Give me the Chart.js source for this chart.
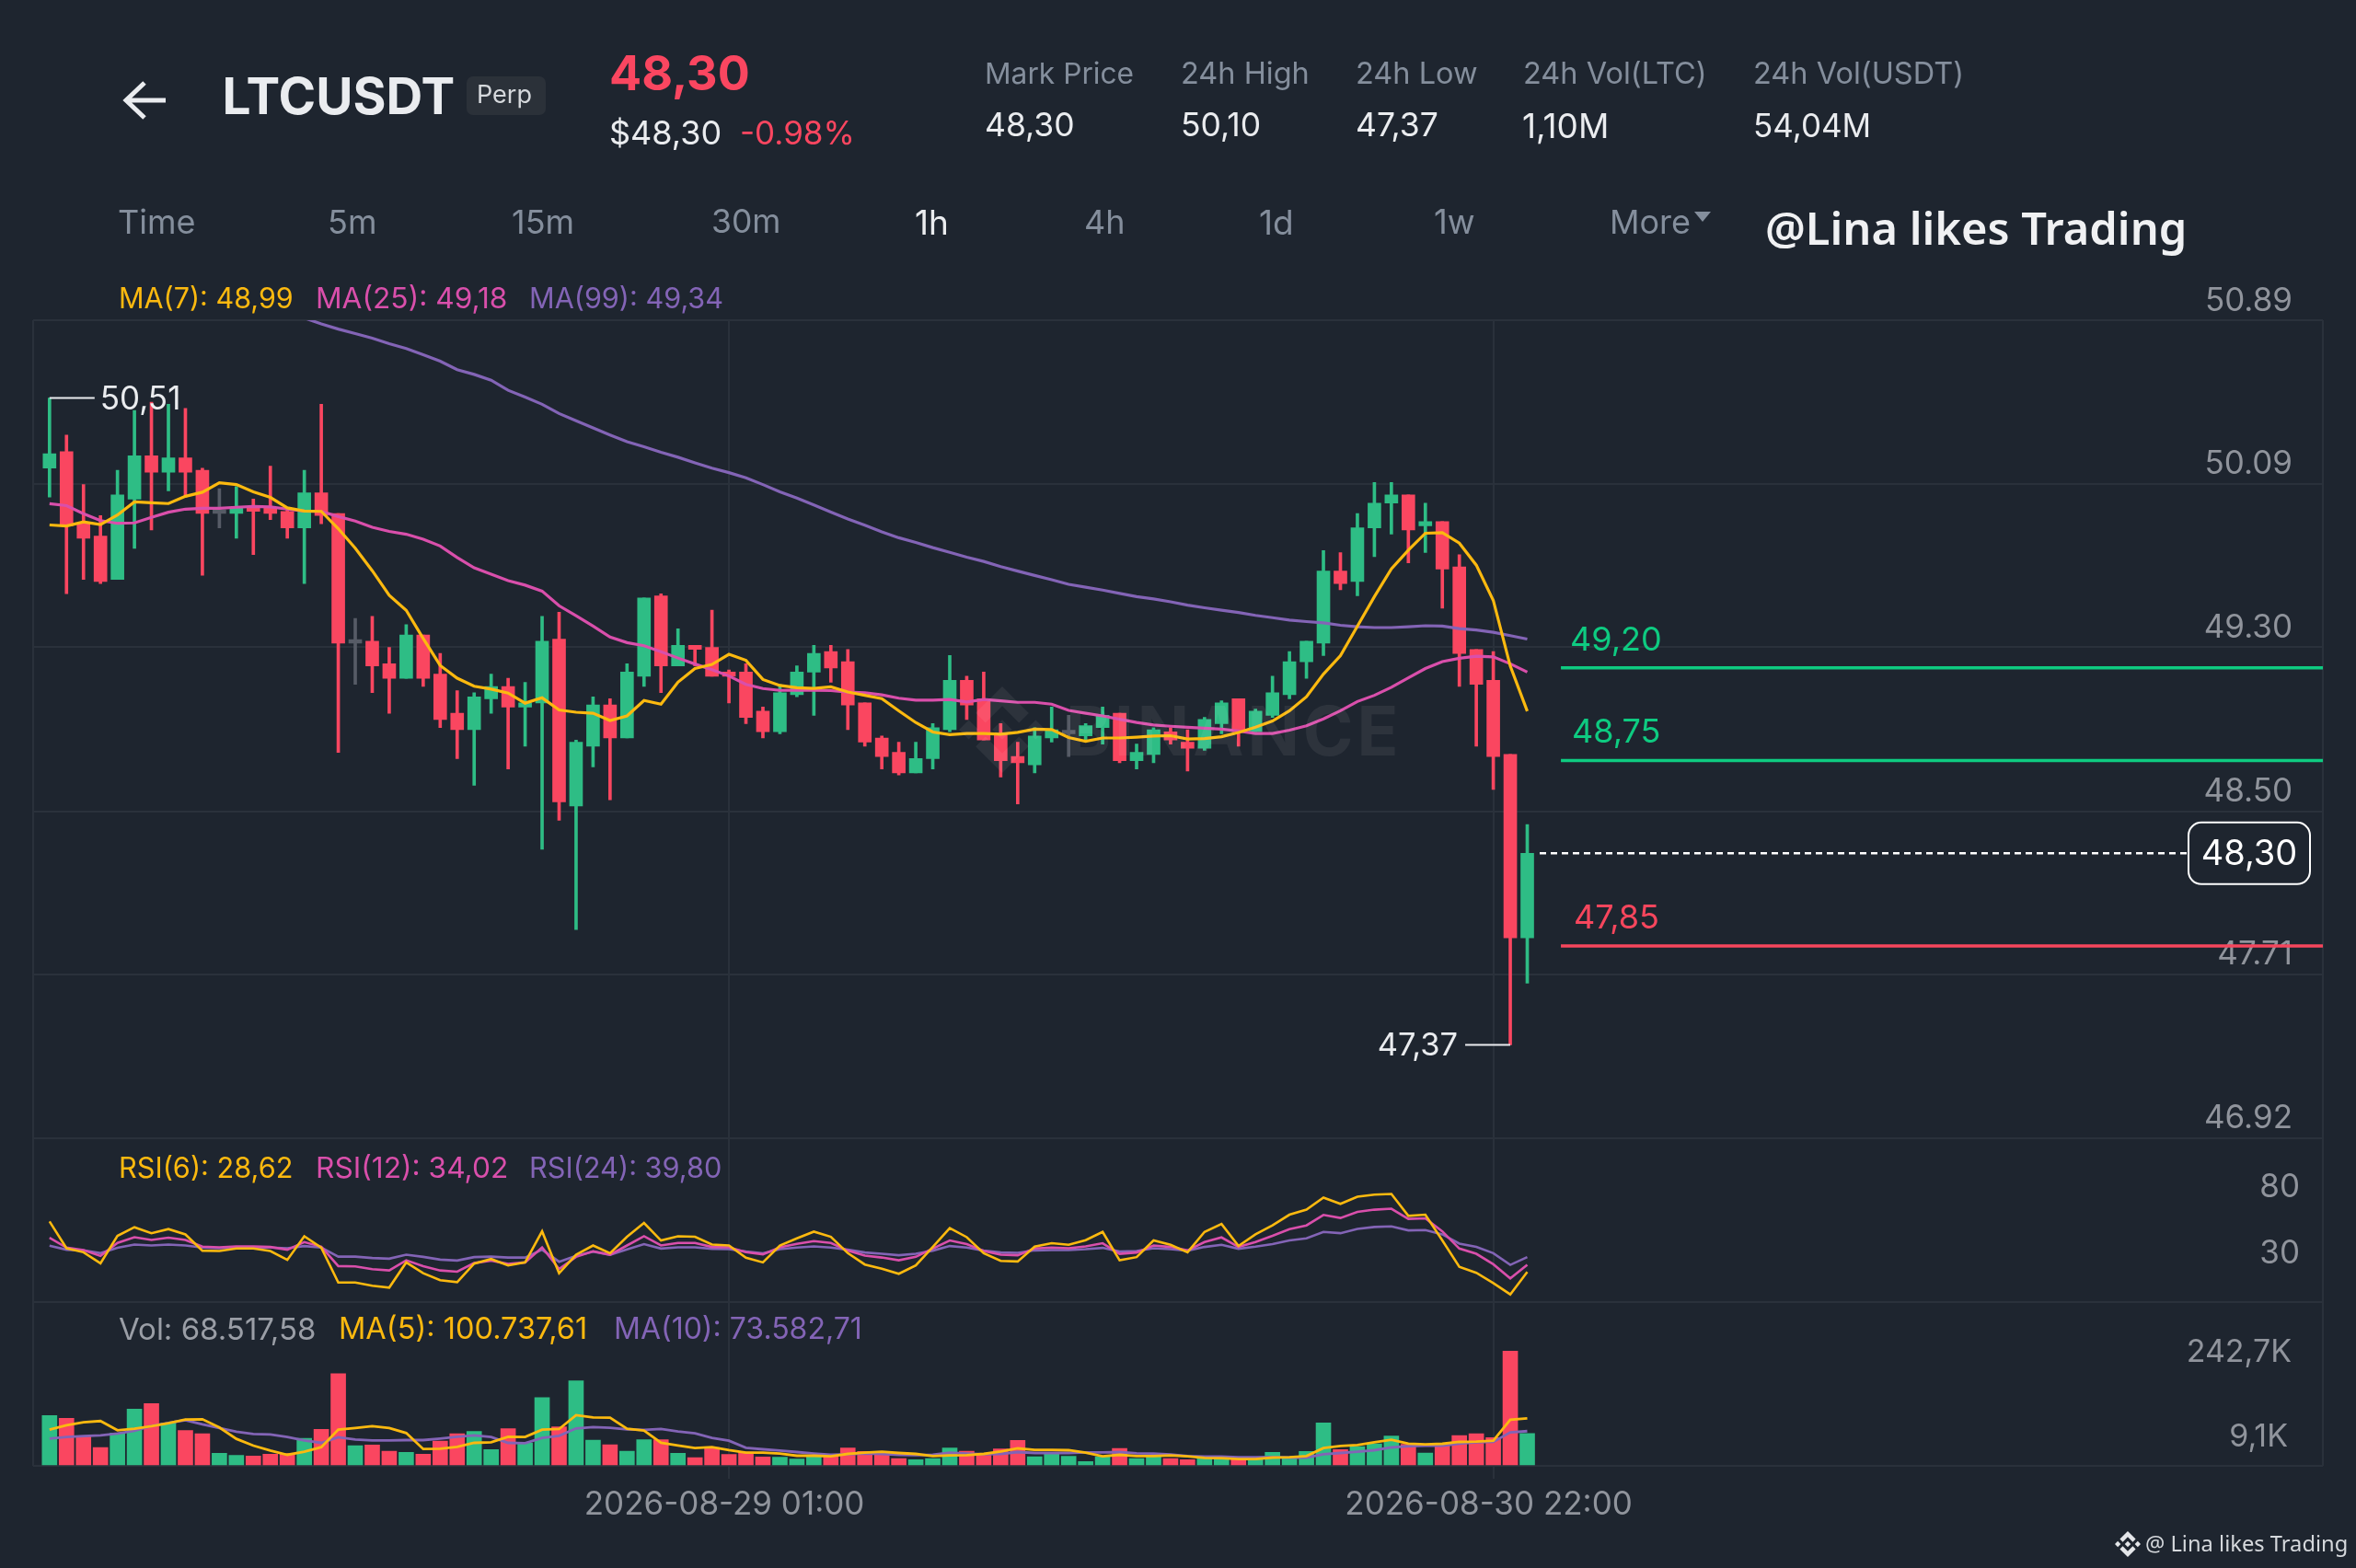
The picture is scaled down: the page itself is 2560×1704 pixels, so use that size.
<!DOCTYPE html>
<html><head><meta charset="utf-8"><title>LTCUSDT</title>
<script src="https://cdn.jsdelivr.net/npm/chart.js@4"></script>
<style>
html,body{margin:0;padding:0;background:#1e252f;width:2560px;height:1704px;overflow:hidden}
#wrap{position:relative;width:2560px;height:1704px}
canvas{position:absolute;left:0;top:0}
.t{position:absolute;white-space:nowrap;line-height:1;transform:translateY(-50%);font-family:Inter,"Noto Sans",sans-serif}
svg{position:absolute}
</style></head><body><div id="wrap">
<canvas id="c" width="2560" height="1704"></canvas>
<svg style="left:130px;top:86px" width="54" height="46" viewBox="0 0 54 46"><path d="M50 23H8M27 4L7 23l20 19" fill="none" stroke="#eaecef" stroke-width="5"/></svg>
<svg style="left:1841px;top:230px" width="18" height="11" viewBox="0 0 18 11"><path d="M0 0h18L9 11z" fill="#848e9c"/></svg>
<div style="position:absolute;left:507px;top:83px;width:86px;height:42px;border-radius:7px;background:#2b3139"></div>
<svg style="left:2298px;top:1664px" width="28" height="28" viewBox="0 0 126.61 126.61"><path fill="#e4e6e9" d="M38.73 53.2 63.3 28.62l24.6 24.6 14.3-14.3L63.3 0 24.42 38.88zM0 63.31l14.3-14.3 14.3 14.3-14.3 14.3zM38.73 73.41l24.57 24.57 24.6-24.6 14.31 14.29L63.3 126.61 24.41 87.73zM98 63.31l14.3-14.3 14.31 14.3-14.31 14.3zM77.83 63.3 63.3 48.78 48.78 63.3 63.3 77.83z"/></svg>
</div>
<script>
// ---------- candle values (one entry per hour, 2026-08-27 09:00 → 2026-08-31 00:00) ----------
const openValues = [50.17,50.25,49.90,49.84,49.63,50.02,50.23,50.15,50.22,50.16,
49.95,49.95,49.98,49.98,49.96,49.88,50.05,49.95,49.32,49.33,
49.22,49.15,49.36,49.17,48.98,48.90,49.05,49.11,49.01,49.03,
49.34,48.53,48.82,49.02,48.86,49.16,49.55,49.21,49.31,49.30,
49.18,49.18,48.99,48.89,49.07,49.18,49.28,49.23,49.03,48.86,
48.79,48.69,48.76,48.90,49.14,49.05,48.88,48.77,48.73,48.86,
48.88,48.87,48.91,48.98,48.75,48.78,48.89,48.84,48.81,48.93,
49.05,48.89,48.97,49.07,49.23,49.32,49.67,49.62,49.88,50.00,
50.04,49.89,49.91,49.69,49.29,49.14,48.78,47.89];
const highValues = [50.51,50.33,50.09,49.94,50.16,50.45,50.49,50.48,50.46,50.17,
50.07,50.08,50.02,50.18,49.98,50.16,50.48,49.95,49.44,49.45,
49.30,49.41,49.36,49.27,49.09,49.08,49.17,49.15,49.13,49.45,
49.47,48.85,49.06,49.05,49.22,49.54,49.56,49.39,49.31,49.48,
49.19,49.22,49.01,49.12,49.21,49.31,49.31,49.29,49.03,48.87,
48.84,48.84,48.93,49.26,49.16,49.18,48.93,48.84,48.91,49.01,
48.97,48.93,49.01,48.98,48.83,48.91,48.91,48.90,48.96,49.04,
49.05,49.00,49.16,49.28,49.33,49.77,49.76,49.95,50.10,50.10,
50.04,50.00,49.91,49.75,49.29,49.28,48.78,48.44];
const lowValues = [50.03,49.56,49.63,49.61,49.63,49.78,49.87,50.06,50.03,49.65,
49.88,49.83,49.75,49.92,49.83,49.61,49.90,48.79,49.12,49.08,
48.98,49.15,49.11,48.91,48.76,48.63,48.98,48.71,48.82,48.32,
48.46,47.93,48.72,48.56,48.86,49.11,49.08,49.21,49.21,49.16,
49.03,48.93,48.86,48.88,49.06,48.97,49.13,48.90,48.82,48.71,
48.68,48.69,48.71,48.89,48.95,48.85,48.67,48.54,48.69,48.84,
48.77,48.85,48.83,48.74,48.71,48.74,48.83,48.70,48.80,48.88,
48.82,48.89,48.96,49.05,49.15,49.26,49.58,49.55,49.74,49.85,
49.71,49.76,49.49,49.11,48.82,48.61,47.37,47.67];
const closeValues = [50.24,49.89,49.83,49.62,50.04,50.23,50.15,50.22,50.15,49.95,
49.95,49.98,49.96,49.95,49.88,50.05,49.94,49.32,49.32,49.21,
49.15,49.36,49.15,48.95,48.90,49.06,49.11,49.01,49.03,49.33,
48.55,48.84,49.02,48.86,49.18,49.54,49.21,49.31,49.29,49.16,
49.16,48.96,48.89,49.08,49.18,49.27,49.20,49.02,48.84,48.77,
48.69,48.76,48.91,49.14,49.02,48.85,48.75,48.74,48.87,48.90,
48.88,48.92,48.97,48.75,48.79,48.90,48.85,48.81,48.95,49.03,
48.89,48.99,49.08,49.23,49.33,49.67,49.61,49.88,50.00,50.04,
49.87,49.91,49.68,49.27,49.12,48.77,47.89,48.30];

// ---------- moving averages on price ----------
const ma7 = [49.894,49.889,49.909,49.896,49.942,50.006,50.002,49.998,50.033,50.053,
50.099,50.090,50.055,50.028,49.977,49.962,49.960,49.876,49.781,49.672,
49.553,49.480,49.343,49.212,49.150,49.111,49.097,49.078,49.029,49.055,
48.996,48.985,48.980,48.945,48.967,49.042,49.024,49.131,49.197,49.217,
49.266,49.237,49.144,49.115,49.104,49.101,49.108,49.083,49.067,49.051,
48.992,48.935,48.889,48.876,48.882,48.882,48.878,48.887,48.903,48.901,
48.862,48.844,48.860,48.860,48.864,48.869,48.871,48.855,48.857,48.866,
48.887,48.912,48.942,48.992,49.060,49.170,49.259,49.403,49.546,49.681,
49.772,49.854,49.857,49.806,49.699,49.528,49.209,48.990];
const ma25 = [49.997,49.988,49.949,49.915,49.902,49.904,49.931,49.956,49.971,49.975,
49.975,49.980,49.984,49.982,49.971,49.962,49.960,49.935,49.913,49.883,
49.863,49.849,49.825,49.792,49.736,49.686,49.655,49.624,49.602,49.573,
49.502,49.453,49.403,49.350,49.323,49.308,49.279,49.248,49.219,49.192,
49.161,49.120,49.100,49.091,49.092,49.092,49.090,49.083,49.079,49.069,
49.053,49.044,49.044,49.047,49.035,49.047,49.040,49.033,49.033,49.024,
48.994,48.980,48.967,48.951,48.935,48.923,48.917,48.912,48.907,48.903,
48.894,48.882,48.882,48.898,48.919,48.953,48.992,49.037,49.067,49.106,
49.152,49.197,49.231,49.247,49.257,49.254,49.220,49.180];
const ma99 = [null,null,null,null,null,null,null,null,null,null,
null,null,null,null,null,50.899,50.870,50.845,50.823,50.801,
50.774,50.751,50.720,50.689,50.648,50.625,50.597,50.548,50.515,50.480,
50.435,50.400,50.365,50.331,50.298,50.274,50.247,50.223,50.196,50.170,
50.148,50.123,50.090,50.055,50.025,49.991,49.957,49.923,49.893,49.861,
49.832,49.809,49.784,49.761,49.738,49.717,49.692,49.670,49.649,49.628,
49.606,49.592,49.578,49.562,49.546,49.535,49.521,49.505,49.492,49.480,
49.469,49.455,49.444,49.432,49.425,49.419,49.407,49.400,49.396,49.396,
49.400,49.405,49.403,49.391,49.384,49.373,49.357,49.340];

// ---------- RSI ----------
const rsi6 = [66.8,46.5,43.5,35.1,55.9,62.4,57.9,61.0,57.0,44.7,
44.4,46.3,46.3,44.4,37.7,55.6,47.0,20.6,20.6,18.1,
16.7,35.8,27.6,22.3,20.9,34.9,38.4,33.5,35.8,59.3,
27.6,41.6,48.6,42.8,55.2,65.6,52.4,55.6,55.2,49.3,
48.6,39.3,35.8,48.6,54.0,59.1,55.2,42.8,34.2,31.1,
27.2,33.5,47.5,61.7,54.9,42.8,37.0,36.5,47.7,50.3,
49.1,52.6,58.9,37.4,39.8,52.4,49.1,43.5,58.9,64.9,
48.2,57.0,63.8,71.9,75.7,84.8,80.1,85.5,87.1,87.6,
71.0,71.9,52.4,32.5,27.9,20.2,11.6,28.62];
const rsi12 = [54.5,47.0,45.1,40.7,50.5,54.9,52.8,54.5,52.8,47.7,
47.2,47.9,47.9,47.5,45.4,51.2,47.7,33.0,32.8,30.7,
29.7,37.4,33.0,29.7,28.8,35.3,37.2,34.6,35.8,47.2,
30.9,40.0,44.2,41.6,48.6,55.6,48.6,50.5,50.5,47.5,
47.2,43.5,41.9,47.2,49.8,51.9,50.5,44.7,40.9,39.5,
37.4,40.0,46.3,52.4,49.6,44.4,41.6,41.2,46.3,47.0,
46.5,47.9,50.3,42.3,43.3,48.6,47.5,44.9,51.2,54.7,
47.5,51.2,55.9,61.0,63.8,71.7,69.4,74.0,75.7,76.4,
68.7,69.1,59.3,46.3,42.3,34.4,23.7,34.02];
const rsi24 = [48.4,45.4,44.9,42.8,46.8,49.3,48.6,49.3,48.6,47.0,
46.5,47.0,47.2,47.0,46.5,48.2,47.0,40.2,40.2,39.1,
38.6,41.6,40.0,37.9,37.2,39.8,40.2,39.5,39.5,45.4,
36.3,40.7,44.0,41.6,45.6,49.6,46.3,47.2,47.2,46.1,
45.8,44.0,42.6,45.8,47.0,47.9,47.0,45.4,43.3,42.3,
41.2,42.3,44.7,48.2,47.0,44.7,43.3,43.0,44.9,45.1,
45.1,45.8,46.8,44.0,44.4,46.5,45.8,44.7,47.5,49.1,
46.1,47.7,49.6,52.4,54.0,58.9,57.9,61.2,62.6,63.1,
60.0,60.3,57.0,50.0,47.5,42.8,33.9,39.80];

// ---------- volume ----------
const volumeValues = [106600,100750,61750,39000,69550,120250,131950,91000,74750,68250,
26650,22100,20800,24700,26000,58500,77350,195000,42900,44200,
31200,28600,24700,52650,68250,72800,34450,78650,48750,144300,
82550,180050,54600,44850,31200,55250,55250,26650,17550,39000,
24050,29250,18850,18200,14300,22750,20800,37700,30550,26000,
15600,13000,15600,37700,31200,26000,35750,53950,19500,26000,
20150,9100,19500,37050,15600,19500,15600,13000,16250,17550,
13000,16250,28600,16250,30550,91000,34450,40950,46800,63050,
45500,27300,45500,64350,68250,59800,242700,68517.58];
const volMa5 = [76700,85800,92300,94900,75400,78650,83850,90350,98150,98800,
81250,57200,42900,32500,23400,29900,39650,76700,79950,83850,
79950,69550,35750,36400,40300,48750,50050,61750,61100,76700,
78000,107250,102700,102050,78650,74750,48750,42900,37700,39650,
33150,27950,27950,26000,21450,21450,20150,25350,27950,29900,
27300,25350,20800,22100,22750,25350,30550,37050,33800,33800,
33150,27950,20150,23400,20800,20800,22100,20150,16900,16250,
14300,14300,17550,18200,20800,37700,42250,44200,50050,55250,
46800,45500,46800,50700,51350,53300,97500,100737.61];
const volMa10 = [57850,61100,63050,64350,68250,74100,84500,91000,96850,87750,
79950,72150,67600,66300,61100,53950,48750,60450,55900,53950,
53950,54600,54600,57850,61750,64350,61100,48750,48100,59150,
63700,79300,81900,80600,77350,76050,78000,72800,68900,59150,
53300,38350,35100,32500,29250,26000,23400,24700,26000,25350,
23400,22750,23400,27950,26000,24700,25350,29250,27300,27300,
27300,28600,28600,29250,26650,26000,24050,20800,19500,19500,
18200,18200,18850,17550,17550,24700,27300,29900,33150,39000,
41600,42900,42900,46800,50050,50700,70850,73582.71];

// ---------- axes ----------
const priceTicks = [50.888,50.094,49.30,48.504,47.712,46.918];
const rsiTicks = [80,30];
const volumeTicks = [242700,9100];
const volumeTickLabels = ['242,7K','9,1K'];
const timeTicks = [40,85];
const timeTickLabels = ['2026-08-29 01:00','2026-08-30 22:00'];

// ---------- horizontal levels ----------
const levelValues = [49.20,48.75,47.85];
const levelLabels = ['49,20','48,75','47,85'];
const lastPrice = 48.30, lastPriceLabel = '48,30';
const highPoint = 50.51, highLabel = '50,51';
const lowPoint = 47.37, lowLabel = '47,37';

// ---------- colours ----------
const BG='#1e252f', GRID='#2a313b', UP='#2ebd85', DOWN='#fa4660', DOJI='#565b66',
  LVL_UP='#0ecb81', LVL_DN='#f6465d', YEL='#fcb90f', PINK='#d94fab', PUR='#8364b6',
  AXIS='#90949c', MUTED='#848e9c', WHITE='#eaecef';

const idx = openValues.map((_,i)=>i);
const dir = i => closeValues[i]>=openValues[i];
const candleColor = idx.map(i=>closeValues[i]===openValues[i]?DOJI:(dir(i)?UP:DOWN));
const volumeColor = idx.map(i=>dir(i)?UP:DOWN);
const pts = a => a.map((y,x)=>({x,y})).filter(p=>p.y!==null);
const hline = (y,x0,x1)=>[{x:x0,y},{x:x1,y}];
const line = (data,yAxisID,color,width,order,extra)=>Object.assign({type:'line',data,yAxisID,borderColor:color,borderWidth:width,pointRadius:0,tension:0,order,fill:false},extra||{});

const X_MIN=-0.965, X_MAX=133.84, LEVEL_X0=88.98, LAST_X0=87.73, LAST_X1=125.93;
const PRICE_MIN=46.918, PRICE_MAX=50.888, RSI_MIN=5.9, RSI_MAX=129.9, VOL_MAX=347100;

const datasets=[
 {type:'bar',yAxisID:'yPrice',data:idx.map(i=>({x:i,y:[lowValues[i],highValues[i]]})),backgroundColor:candleColor,barThickness:3,grouped:false,order:6},
 {type:'bar',yAxisID:'yPrice',data:idx.map(i=>({x:i,y:[openValues[i],closeValues[i]]})),backgroundColor:candleColor,barThickness:14,minBarLength:4,grouped:false,order:5},
 line(pts(ma99),'yPrice',PUR,3.2,4),
 line(pts(ma25),'yPrice',PINK,3.2,3),
 line(pts(ma7),'yPrice',YEL,3.2,2),
 line(hline(levelValues[0],LEVEL_X0,X_MAX),'yPrice',LVL_UP,3.5,1),
 line(hline(levelValues[1],LEVEL_X0,X_MAX),'yPrice',LVL_UP,3.5,1),
 line(hline(levelValues[2],LEVEL_X0,X_MAX),'yPrice',LVL_DN,3.5,1),
 line(hline(lastPrice,LAST_X0,LAST_X1),'yPrice','#ffffff',2.5,1,{borderDash:[7,5]}),
 line(pts(rsi24),'yRsi',PUR,2.6,4),
 line(pts(rsi12),'yRsi',PINK,2.6,3),
 line(pts(rsi6),'yRsi',YEL,2.6,2),
 {type:'bar',yAxisID:'yVol',data:idx.map(i=>({x:i,y:volumeValues[i]})),backgroundColor:volumeColor,barThickness:16,grouped:false,order:7},
 line(pts(volMa10),'yVol',PUR,2.8,4),
 line(pts(volMa5),'yVol',YEL,2.8,2)
];

const overlay={id:'overlay',afterDatasetsDraw(chart){
  const c=chart.ctx,y=chart.scales.yPrice,x=chart.scales.x,v=chart.scales.yVol,ar=chart.chartArea;
  c.save();
  // watermark
  c.fillStyle='rgba(255,255,255,0.065)';
  c.save();c.translate(1042,746);c.scale(94/126.61,94/126.61);
  c.fill(new Path2D('M38.73 53.2 63.3 28.62l24.6 24.6 14.3-14.3L63.3 0 24.42 38.88zM0 63.31l14.3-14.3 14.3 14.3-14.3 14.3zM38.73 73.41l24.57 24.57 24.6-24.6 14.31 14.29L63.3 126.61 24.41 87.73zM98 63.31l14.3-14.3 14.31 14.3-14.31 14.3zM77.83 63.3 63.3 48.78 48.78 63.3 63.3 77.83z'));
  c.restore();
  c.font='700 74px Inter';c.textAlign='left';c.textBaseline='alphabetic';
  if('letterSpacing' in c)c.letterSpacing='4px';
  c.fillText('BINANCE',1158,821);
  if('letterSpacing' in c)c.letterSpacing='0px';
  // level labels
  c.font='36px Inter';c.textBaseline='middle';
  const lx=[1706,1708,1710], lc=[LVL_UP,LVL_UP,LVL_DN];
  levelValues.forEach((p,i)=>{c.fillStyle=lc[i];c.fillText(levelLabels[i],lx[i],y.getPixelForValue(p)-30);});
  // high / low
  c.strokeStyle=WHITE;c.lineWidth=2;c.fillStyle=WHITE;
  const hy=y.getPixelForValue(highPoint), ly=y.getPixelForValue(lowPoint), hx=x.getPixelForValue(0), lwx=x.getPixelForValue(86);
  c.beginPath();c.moveTo(hx,hy);c.lineTo(hx+49,hy);c.moveTo(lwx-49,ly);c.lineTo(lwx,ly);c.stroke();
  c.font='35px Inter';
  c.fillText(highLabel,hx+55,hy+1.5);
  c.textAlign='right';c.font='34.5px Inter';c.fillText(lowLabel,lwx-57,ly+1);
  // last price box
  const by=y.getPixelForValue(lastPrice);
  c.beginPath();c.roundRect(2378,by-33.5,132,67,14);c.fillStyle=BG;c.fill();c.strokeStyle='#ffffff';c.lineWidth=2;c.stroke();
  c.textAlign='center';c.fillStyle='#ffffff';c.font='38px Inter';c.fillText(lastPriceLabel,2444,by+1);
  // volume axis labels (each sits at its own distance from the tick in the original)
  c.textAlign='right';c.fillStyle=AXIS;c.font='34px Inter';
  const vo=[1,-27], vr=[34,38];
  volumeTicks.forEach((t,i)=>c.fillText(volumeTickLabels[i],ar.right-vr[i],v.getPixelForValue(t)+vo[i]));
  c.restore();
}};

const gridBase={color:GRID,lineWidth:2,drawTicks:false,offset:false};
const tickFont={family:'Inter',size:35};
new Chart(document.getElementById('c'),{
 type:'bar',data:{datasets},plugins:[overlay],
 options:{responsive:false,devicePixelRatio:1,animation:false,events:[],
  layout:{padding:{left:36,right:36,top:348,bottom:41}},
  plugins:{legend:{display:false},tooltip:{enabled:false}},
  scales:{
   x:{type:'linear',position:'bottom',offset:false,min:X_MIN,max:X_MAX,
      border:{display:false},
      grid:{color:GRID,lineWidth:2,drawTicks:true,tickLength:14,offset:false,
        tickColor:ctx=>timeTicks.includes(ctx.tick&&ctx.tick.value)?GRID:'transparent'},
      afterBuildTicks:s=>{s.ticks=[X_MIN,...timeTicks,X_MAX].map(value=>({value}));},
      ticks:{autoSkip:false,maxRotation:0,minRotation:0,color:AXIS,font:tickFont,padding:7,labelOffset:-5,
        callback:v=>{const k=timeTicks.indexOf(v);return k<0?'':timeTickLabels[k];}}},
   yPrice:{type:'linear',position:'right',stack:'panels',stackWeight:888,min:PRICE_MIN,max:PRICE_MAX,
      border:{display:false},grid:gridBase,
      afterBuildTicks:s=>{s.ticks=priceTicks.map(value=>({value}));},
      ticks:{mirror:true,padding:-33,labelOffset:-21,color:AXIS,font:tickFont,callback:v=>v.toFixed(2)}},
   yRsi:{type:'linear',position:'right',stack:'panels',stackWeight:178,min:RSI_MIN,max:RSI_MAX,
      border:{display:false},grid:{display:false},
      afterBuildTicks:s=>{s.ticks=rsiTicks.map(value=>({value}));},
      ticks:{mirror:true,padding:-25,labelOffset:-18,color:AXIS,font:tickFont,callback:v=>String(v)}},
   yVol:{type:'linear',position:'right',stack:'panels',stackWeight:178,min:0,max:VOL_MAX,
      border:{display:false},grid:gridBase,
      afterBuildTicks:s=>{s.ticks=[0,VOL_MAX].map(value=>({value}));},
      ticks:{display:false}}
  }}
});

// ---------- page text ----------
const wrap=document.getElementById('wrap');
const texts=[
 ['LTCUSDT',241.5,104,55,WHITE,700],['Perp',518,102,27,'#d5d8dc',400],
 ['48,30',662,80,52,'#fa4660',700],['$48,30',662,144,36,WHITE,400],['-0.98%',804,144,35,'#fa4660',400],
 ['Mark Price',1070,80,31.7,MUTED,400],['24h High',1283,80,32.5,MUTED,400],['24h Low',1473,80,32.5,MUTED,400],['24h Vol(LTC)',1655,80,32.5,MUTED,400],['24h Vol(USDT)',1905,80,32.5,MUTED,400],
 ['48,30',1070,136,35.5,WHITE,400],['50,10',1283,136,35.5,WHITE,400],['47,37',1473,136,35.5,WHITE,400],['1,10M',1654,136,37,WHITE,400],['54,04M',1905,136,35,WHITE,400],
 ['Time',128,241,36,MUTED,400],['5m',356,241,36,MUTED,400],['15m',556,241,36,MUTED,400],['30m',773,241,35.5,MUTED,400],['1h',994,241,37,WHITE,400],['4h',1178,241,36,MUTED,400],['1d',1368,241,37,MUTED,400],['1w',1558,241,36.5,MUTED,400],['More',1749,241,36,MUTED,400],
 ['@Lina likes Trading',1918,247,48.8,'#f0f1f3',600,'"Noto Sans"'],
 ['MA(7): 48,99',129,324,30.5,YEL,400],['MA(25): 49,18',343,324,31.7,PINK,400],['MA(99): 49,34',575,324,30.6,PUR,400],
 ['RSI(6): 28,62',129,1269,30.7,YEL,400],['RSI(12): 34,02',343,1269,31.7,PINK,400],['RSI(24): 39,80',575,1269,30.7,PUR,400],
 ['Vol: 68.517,58',129,1444,33,'#9a9ea6',400],['MA(5): 100.737,61',368,1444,32.5,YEL,400],['MA(10): 73.582,71',667,1444,32,PUR,400],
 ['@ Lina likes Trading',2331,1678,23.7,'#d5d8dc',400,'"Noto Sans"']
];
texts.forEach(([s,x,y,size,color,weight,fam])=>{const d=document.createElement('div');d.className='t';d.textContent=s;
 d.style.cssText=`left:${x}px;top:${y}px;font-size:${size}px;color:${color};font-weight:${weight};`+(fam?`font-family:${fam},sans-serif;`:'');wrap.appendChild(d);});
</script></body></html>
